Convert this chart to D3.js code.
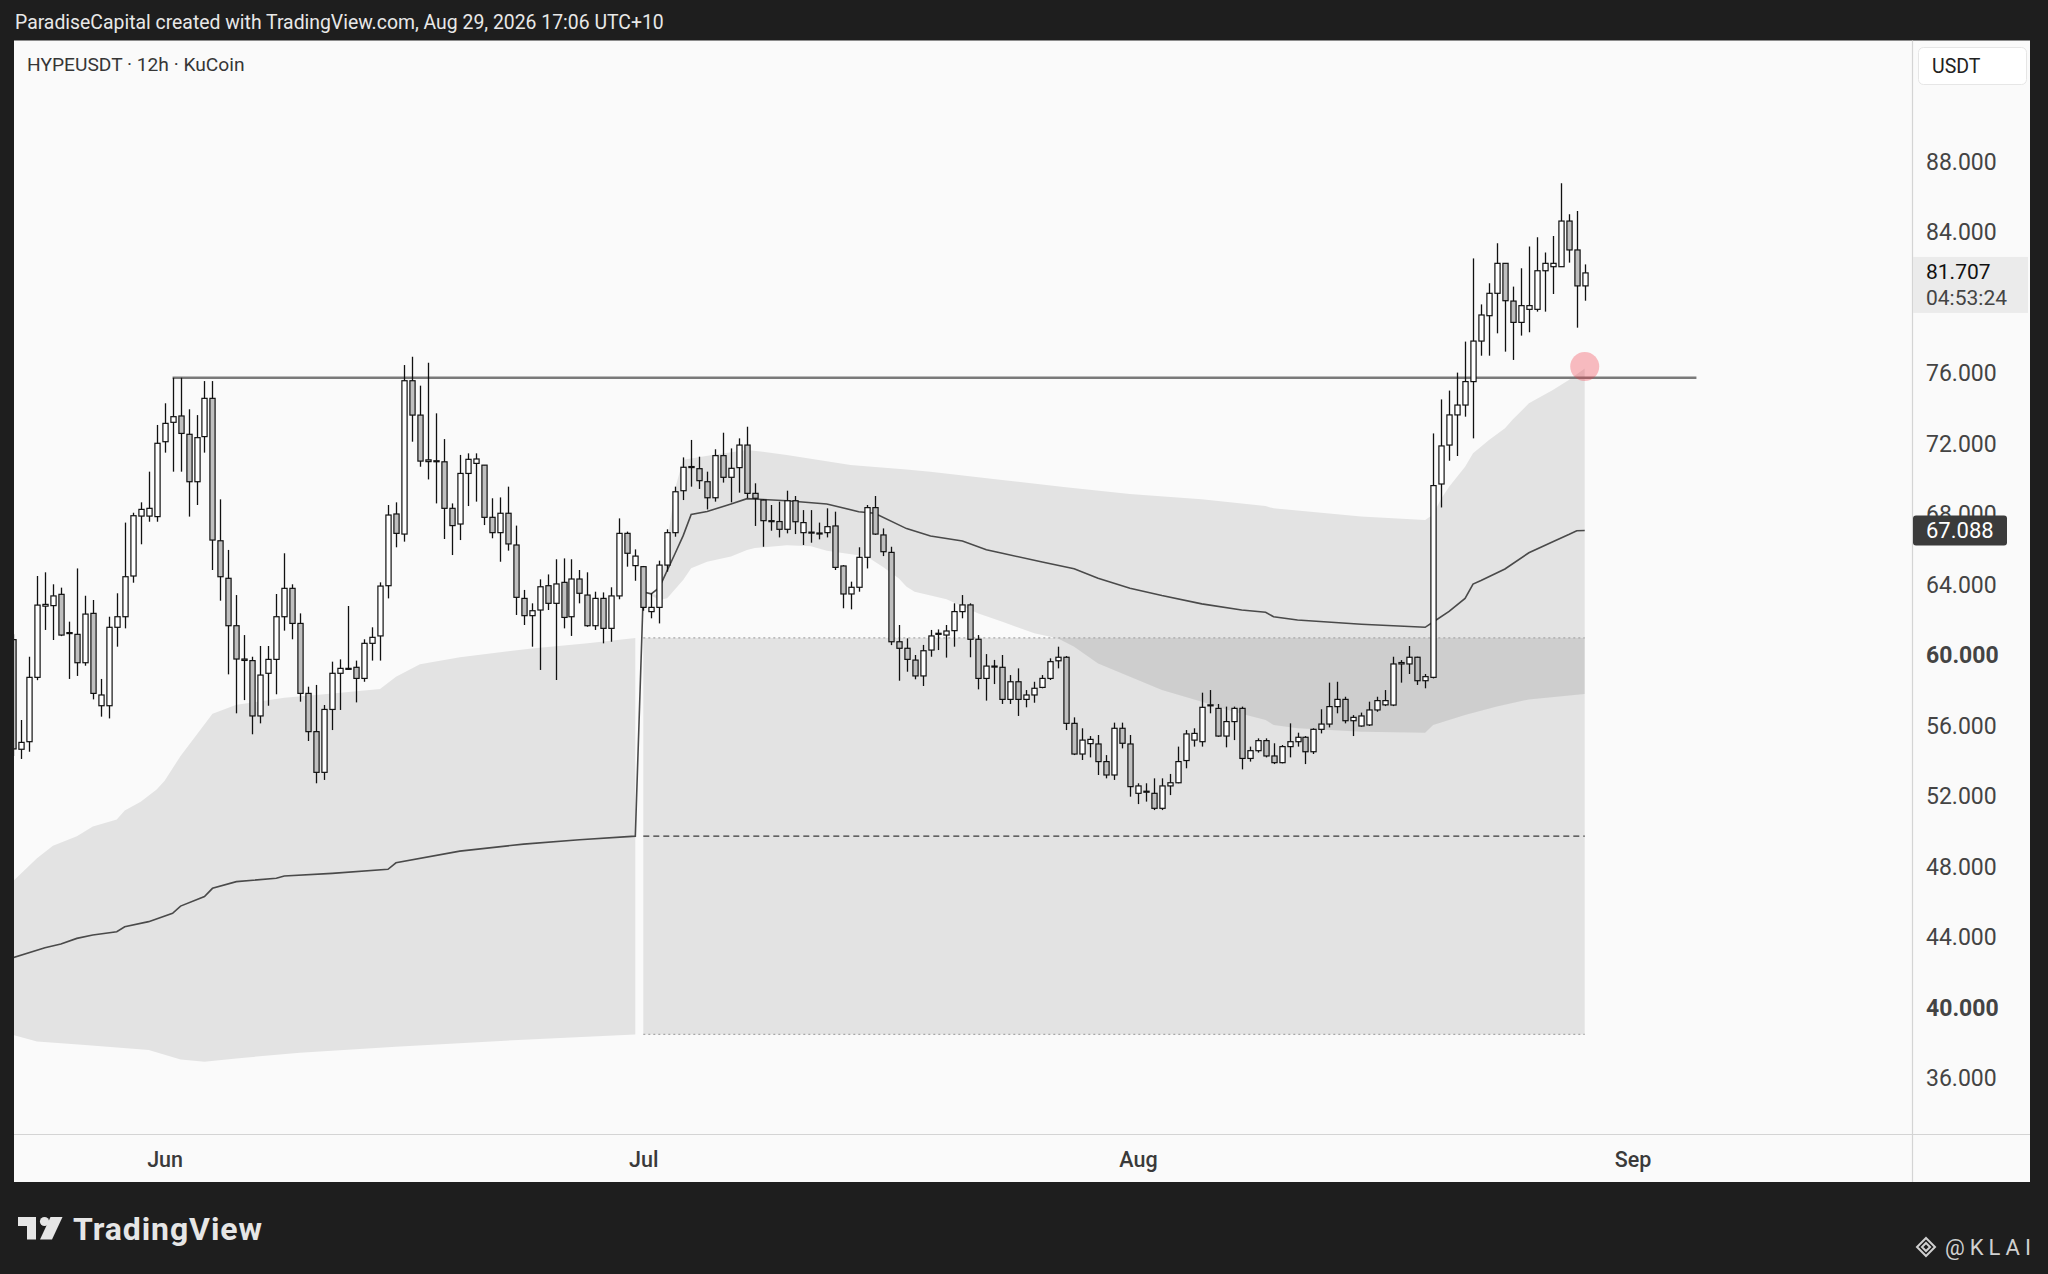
<!DOCTYPE html>
<html>
<head>
<meta charset="utf-8">
<script src="https://cdn.jsdelivr.net/npm/d3@7"></script>
<style>
html,body{margin:0;padding:0;background:#1e1e1e;}
svg{display:block;font-family:Roboto,"Noto Sans",sans-serif;}
</style>
</head>
<body>
<div id="chart"></div>
<script>
const width = 2048
const height = 1274

const panel = {left:14, top:40.5, right:2030, bottom:1182}
const plot = {left:14, top:40.5, right:1912, bottom:1134}

// 12h candles, HYPEUSDT, first one on May 22 12:00
const firstCandle = Date.UTC(2026, 4, 22, 12)
const candleMs = 12 * 3600 * 1000

const opens = [
  60.9,54.68,55.11,58.76,62.8,62.83,63.47,61.3,61.2,59.59,
  62.39,57.15,57.15,61.6,62.2,64.51,67.91,67.91,67.88,72.13,
  73.23,73.59,72.55,69.86,72.42,74.59,66.51,64.38,61.69,59.8,
  59.71,56.57,58.99,59.78,62.2,63.81,61.82,57.85,55.68,53.37,
  56.94,58.99,59.27,59.33,58.7,60.69,61.11,63.96,68.03,66.89,
  75.59,73.64,71.1,71.0,70.99,68.35,67.46,70.33,70.9,70.8,
  67.84,66.97,68.07,66.27,63.24,62.26,62.58,63.96,62.96,64.15,
  62.2,64.34,63.43,61.69,63.24,61.54,63.38,66.93,65.1,65.04,
  62.49,62.73,65.13,66.97,69.35,70.68,70.6,69.86,68.95,71.34,
  70.11,70.66,71.94,69.2,68.82,67.65,67.6,67.16,68.78,66.97,
  66.95,66.95,66.97,67.35,65.08,63.49,63.87,65.57,68.39,66.84,
  65.85,60.78,60.41,59.74,58.84,60.31,61.2,61.16,61.41,62.49,
  62.87,60.92,58.7,59.4,59.33,57.51,58.51,57.51,57.76,58.19,
  58.7,59.7,59.9,56.15,54.41,55.0,54.98,53.98,53.22,55.87,
  54.98,52.18,52.3,52.18,51.33,52.6,52.78,54.04,55.2,55.11,
  57.15,57.0,55.43,56.25,57.0,54.16,54.6,55.17,54.3,53.92,
  54.83,55.11,55.36,54.54,55.81,56.11,57.1,57.51,56.3,56.0,
  56.06,56.91,57.2,57.19,59.52,59.52,59.9,58.57,58.76,69.73,
  71.94,73.65,74.21,75.54,77.84,79.28,80.55,82.25,80.11,78.9,
  79.64,79.64,81.83,82.06,82.06,84.65,83.01,80.97
]
const highs = [
  61.2,56.34,59.93,64.51,64.72,64.04,63.85,61.92,64.94,63.39,
  63.15,58.67,62.2,63.53,67.54,68.1,68.69,70.43,73.08,74.31,
  75.76,75.76,73.97,73.64,75.57,75.57,68.86,65.99,63.43,61.16,
  59.93,60.54,60.54,63.49,65.8,64.04,62.39,58.23,58.33,57.19,
  59.65,59.78,62.81,59.71,60.92,61.6,64.15,68.54,68.69,76.48,
  76.95,75.31,76.61,73.74,72.28,68.63,71.38,71.47,71.47,70.81,
  68.92,68.97,69.58,67.37,63.72,62.96,64.32,64.6,65.46,65.51,
  65.46,64.85,64.72,63.62,63.58,63.87,67.78,67.03,66.02,65.08,
  63.53,65.38,67.16,69.58,71.24,72.23,71.28,70.43,71.7,72.64,
  71.75,72.32,72.98,69.77,68.86,68.54,68.73,69.35,69.05,68.25,
  68.25,67.54,68.35,68.16,65.13,64.19,66.14,68.54,69.05,67.21,
  66.17,61.73,60.97,60.03,60.6,61.45,61.48,61.73,62.96,63.43,
  62.96,61.16,60.08,59.75,60.03,58.89,59.27,58.04,58.51,58.89,
  59.84,60.5,59.97,56.49,55.87,55.43,55.49,54.35,56.19,56.19,
  55.49,52.75,52.75,53.03,53.03,53.28,54.83,55.77,55.87,57.89,
  58.04,57.25,57.1,57.1,57.1,54.83,55.3,55.3,55.02,54.92,
  56.15,55.62,55.43,55.87,56.95,58.46,58.51,57.66,56.62,56.76,
  57.38,57.66,58.04,59.93,59.74,60.54,59.93,58.95,72.6,74.53,
  75.03,76.05,77.81,82.53,79.92,81.12,83.39,82.25,80.93,81.97,
  83.2,83.73,82.86,83.8,86.79,85.03,85.22,82.19
]
const lows = [
  54.3,54.13,54.54,58.6,61.45,60.88,61.1,58.67,58.84,59.42,
  57.51,56.53,56.43,60.5,61.54,64.13,66.31,67.59,67.59,71.51,
  70.43,70.43,67.88,68.54,71.51,64.85,63.11,58.93,56.72,57.47,
  55.53,56.15,57.15,57.8,61.41,60.92,57.38,55.15,52.75,52.94,
  55.77,56.91,59.2,57.34,58.51,59.71,59.71,63.24,66.14,66.46,
  72.13,70.71,69.99,68.63,66.61,65.7,66.55,68.48,68.73,67.4,
  66.65,65.32,65.95,62.3,61.73,60.5,59.18,62.58,58.61,61.54,
  61.11,62.96,61.63,61.45,60.69,60.78,63.19,65.04,64.24,62.54,
  62.11,61.82,64.76,66.74,68.82,69.58,69.45,68.29,68.73,69.81,
  68.69,69.24,68.92,67.35,66.17,67.08,66.7,66.93,66.89,66.27,
  66.4,66.59,66.7,64.85,62.68,62.62,63.62,64.94,66.84,65.64,
  60.59,58.57,59.08,58.65,58.27,59.93,60.31,59.88,60.5,62.11,
  59.9,58.08,57.44,58.38,57.25,57.25,56.57,57.06,57.32,58.14,
  58.61,59.27,55.77,54.35,54.07,54.22,53.22,53.03,52.94,54.73,
  51.99,51.57,51.71,51.23,51.23,52.08,52.75,53.6,54.83,54.83,
  56.72,55.39,54.79,55.2,53.54,53.98,54.49,54.22,53.84,53.88,
  54.22,54.83,53.84,54.41,55.58,55.92,56.72,56.15,55.43,55.96,
  56.0,56.81,57.13,57.13,58.46,58.95,58.33,58.14,58.7,68.4,
  71.05,71.32,73.55,72.32,77.01,77.01,78.28,77.24,76.77,78.15,
  78.34,79.51,79.51,80.51,82.06,82.29,78.6,80.13
]
const closes = [
  54.7,55.07,58.76,62.86,62.9,63.38,61.16,61.25,59.59,62.35,
  57.85,57.76,61.6,62.2,64.47,67.93,68.29,68.35,72.04,73.17,
  73.55,72.6,69.86,72.36,74.59,66.55,64.47,61.69,59.8,59.72,
  56.57,58.89,59.78,62.2,63.81,61.82,57.85,55.68,53.37,56.94,
  58.99,59.27,59.23,58.7,60.69,61.03,63.94,67.97,66.93,75.59,
  73.64,71.03,71.0,71.05,68.35,67.37,70.33,71.13,71.15,67.84,
  66.97,68.07,66.33,63.3,62.26,62.54,63.9,62.96,64.06,62.16,
  64.34,63.53,61.69,63.24,61.54,63.38,66.93,65.8,65.64,62.73,
  62.73,65.13,66.97,69.29,70.68,70.72,69.92,68.95,71.34,70.11,
  70.62,71.94,69.2,68.92,67.65,67.6,67.16,68.78,67.59,67.54,
  67.0,66.93,67.31,65.0,63.49,63.87,65.57,68.39,66.89,65.89,
  60.78,60.41,59.78,58.84,60.27,61.11,61.26,61.39,62.49,62.87,
  60.92,58.7,59.4,59.37,57.51,58.51,57.51,57.76,58.14,58.7,
  59.65,59.9,56.15,54.41,55.2,55.24,53.98,53.22,55.87,55.02,
  52.56,52.6,52.27,51.33,52.6,52.78,53.98,55.55,55.58,57.06,
  57.2,55.43,56.25,57.0,54.16,54.6,55.17,54.3,53.92,54.83,
  55.11,55.36,54.54,55.81,56.11,57.1,57.51,56.3,56.49,56.57,
  56.91,57.44,57.44,59.52,59.6,59.9,58.57,58.8,69.64,71.89,
  73.65,74.21,75.54,77.84,79.32,80.55,82.25,80.13,78.9,79.85,
  79.85,81.83,82.25,82.25,84.65,83.01,80.97,81.707
]

// anchored vwap + bands, [candle number, price]
const vwapLine = [
  [1,42.85],[5,43.42],[7,43.63],[9,43.95],[11,44.14],[14,44.33],[15,44.61],[18,44.9],
  [21,45.37],[22,45.78],[25,46.32],[26,46.79],[29,47.17],[34,47.36],[35,47.49],[41,47.64],
  [48,47.87],[49,48.24],[57,48.9],[65,49.3],[72,49.55],[79,49.75],
  [80,63.6],[81,63.5],[82,63.85],[84,65.8],[85,66.8],[86,68.0],[88,68.17],[91,68.6],
  [93,68.9],[95,68.85],[98,68.78],[103,68.6],[107,68.16],[109,68.07],[113,67.2],[116,66.78],
  [120,66.5],[123,66.0],[125,65.8],[130,65.3],[134,64.92],[137,64.38],[141,63.82],[145,63.4],
  [150,62.93],[155,62.58],[158,62.45],[159,62.2],[162,62.01],[170,61.77],[178,61.6],[179,61.9],
  [181,62.5],[183,63.24],[184,64.05],[185,64.25],[188,64.91],[191,65.83],[194,66.45],
  [196,66.86],[197,67.08],[198,67.09]
]
const oldUpper = [
  [1,47.2],[4,48.5],[6,49.2],[9,49.75],[11,50.3],[14,50.7],[15,51.2],[17,51.7],[19,52.4],
  [20,52.9],[22,54.3],[26,56.7],[29,57.2],[35,57.6],[41,57.85],[47,58.1],[49,58.8],[52,59.5],
  [57,59.9],[66,60.4],[73,60.7],[79,61.0]
]
const oldLower = [
  [1,38.47],[4,38.1],[10,37.9],[18,37.62],[22,37.08],[25,36.95],[29,37.14],[37,37.46],
  [49,37.8],[65,38.2],[79,38.5]
]
const newUpper = [
  [80,63.6],[81,63.5],[82,63.4],[84,69.5],[85,71.1],[89,71.4],[93,71.66],[95,71.56],[98,71.38],
  [102,71.09],[106,70.81],[113,70.56],[116,70.43],[125,69.96],[133,69.54],[141,69.16],
  [150,68.86],[158,68.48],[159,68.35],[170,67.88],[178,67.69],[179,68.0],[180,68.9],[181,69.58],
  [183,70.71],[184,71.47],[186,72.23],[188,72.9],[189,73.4],[191,74.31],[194,75.07],[196,75.63],
  [198,76.29]
]
const newLower = [
  [80,63.6],[81,63.4],[82,63.15],[83,63.25],[85,64.28],[86,64.95],[88,65.32],[91,65.61],
  [93,65.99],[94,66.1],[98,66.25],[101,66.2],[103,65.95],[108,65.61],[110,65.04],[112,64.38],
  [113,63.9],[114,63.62],[118,63.19],[122,62.39],[125,61.92],[129,61.26],[132,60.97],[134,60.5],
  [137,59.55],[141,58.8],[145,58.04],[150,57.38],[154,56.81],[158,56.34],[159,56.06],[162,55.87],
  [170,55.68],[178,55.62],[179,56.05],[183,56.62],[187,57.1],[191,57.51],[198,57.81]
]
// previous session levels carried forward from Jul 1
const prevLevels = {from:80, to:198, top:61.0, mid:49.75, bottom:38.5}

const resistance = {price:75.76, from:21, to:212}
const marker = {k:198, price:76.4}

// 80.000 sits under the last-price box in the reference, so it is left out
const priceTicks = [36,40,44,48,52,56,60,64,68,72,76,84,88]
const boldTicks = [40,60]
const lastPrice = 81.707
const countdown = "04:53:24"
const vwapLast = 67.088

const headerText = "ParadiseCapital created with TradingView.com, Aug 29, 2026 17:06 UTC+10"
const symbolText = "HYPEUSDT · 12h · KuCoin"
const currency = "USDT"

const dateOf = k => new Date(firstCandle + (k - 1) * candleMs)

const x = d3.scaleUtc()
  .domain([new Date(Date.UTC(2026,5,1)), new Date(Date.UTC(2026,8,1))])
  .range([164.6, 1632.6])
const y = d3.scaleLinear().domain([40, 88]).range([1008, 162])

const svg = d3.select("#chart").append("svg").attr("width", width).attr("height", height)

svg.append("rect").attr("width", width).attr("height", height).attr("fill", "#1e1e1e")
svg.append("rect")
  .attr("x", panel.left).attr("y", panel.top)
  .attr("width", panel.right - panel.left).attr("height", panel.bottom - panel.top)
  .attr("fill", "#fafafa")

svg.append("text").attr("x", 15).attr("y", 28.5)
  .attr("font-size", 19.4).attr("fill", "#e8e8e8").text(headerText)

svg.append("defs").append("clipPath").attr("id", "plotClip")
  .append("rect").attr("x", plot.left).attr("y", plot.top)
  .attr("width", plot.right - plot.left).attr("height", plot.bottom - plot.top)

const g = svg.append("g").attr("clip-path", "url(#plotClip)")

const px = d => x(dateOf(d[0]))
const py = d => y(d[1])
const line = d3.line().x(px).y(py)

// band fills
const bandFill = "rgba(0,0,0,0.092)"
g.append("path").attr("d", line(oldUpper.concat(oldLower.slice().reverse())) + "Z").attr("fill", bandFill)
g.append("rect")
  .attr("x", x(dateOf(prevLevels.from)))
  .attr("y", y(prevLevels.top))
  .attr("width", x(dateOf(prevLevels.to)) - x(dateOf(prevLevels.from)))
  .attr("height", y(prevLevels.bottom) - y(prevLevels.top))
  .attr("fill", bandFill)
g.append("path").attr("d", line(newUpper.concat(newLower.slice().reverse())) + "Z").attr("fill", bandFill)

const levelLine = (p, color, dash, w) => g.append("line")
  .attr("x1", x(dateOf(prevLevels.from))).attr("x2", x(dateOf(prevLevels.to)))
  .attr("y1", y(p)).attr("y2", y(p))
  .attr("stroke", color).attr("stroke-width", w).attr("stroke-dasharray", dash)
levelLine(prevLevels.top, "#a8a8a8", "2,3", 1.2)
levelLine(prevLevels.bottom, "#a8a8a8", "2,3", 1.2)
levelLine(prevLevels.mid, "#3a3a3a", "6,4", 1.4)

g.append("path").attr("d", line(vwapLine))
  .attr("fill", "none").attr("stroke", "#4a4a4a").attr("stroke-width", 1.6)

// resistance
g.append("line")
  .attr("x1", x(dateOf(resistance.from))).attr("x2", x(dateOf(resistance.to)))
  .attr("y1", y(resistance.price)).attr("y2", y(resistance.price))
  .attr("stroke", "#7a7a7a").attr("stroke-width", 2.6)

// candles
const candles = opens.map((o, i) => ({k: i + 1, o: o, h: highs[i], l: lows[i], c: closes[i]}))
const cg = g.append("g")
cg.selectAll("line.wick").data(candles).enter().append("line")
  .attr("class", "wick")
  .attr("x1", d => Math.round(x(dateOf(d.k))) + 0.5)
  .attr("x2", d => Math.round(x(dateOf(d.k))) + 0.5)
  .attr("y1", d => y(d.h)).attr("y2", d => y(d.l))
  .attr("stroke", "#111").attr("stroke-width", 1.3)
cg.selectAll("rect.body").data(candles).enter().append("rect")
  .attr("class", "body")
  .attr("x", d => Math.round(x(dateOf(d.k))) + 0.5 - 2.6)
  .attr("y", d => y(Math.max(d.o, d.c)))
  .attr("width", 5.2)
  .attr("height", d => Math.max(1, Math.abs(y(d.o) - y(d.c))))
  .attr("fill", d => d.c >= d.o ? "#ffffff" : "#bfbfbf")
  .attr("stroke", "#111").attr("stroke-width", 1.2)

g.append("circle")
  .attr("cx", x(dateOf(marker.k))).attr("cy", y(marker.price)).attr("r", 14.5)
  .attr("fill", "rgba(242,54,69,0.32)")

// separators
svg.append("line").attr("x1", plot.right + 0.5).attr("x2", plot.right + 0.5)
  .attr("y1", panel.top).attr("y2", panel.bottom).attr("stroke", "#d4d4d4").attr("stroke-width", 1.2)
svg.append("line").attr("x1", panel.left).attr("x2", panel.right)
  .attr("y1", plot.bottom + 0.5).attr("y2", plot.bottom + 0.5).attr("stroke", "#d4d4d4").attr("stroke-width", 1.2)

svg.append("text").attr("x", 27).attr("y", 70.5)
  .attr("font-size", 19.2).attr("fill", "#363636").text(symbolText)

// price axis
const yAxis = d3.axisRight(y).tickValues(priceTicks).tickSize(0).tickPadding(0)
  .tickFormat(d3.format(".3f"))
const yAxisGroup = svg.append("g").attr("transform", `translate(${plot.right + 14},0)`).call(yAxis)
yAxisGroup.select(".domain").remove()
yAxisGroup.selectAll("text")
  .attr("font-size", 23).attr("fill", "#444")
  .attr("font-family", "Roboto, sans-serif")
  .attr("font-weight", d => boldTicks.includes(d) ? 700 : 400)

// currency box
svg.append("rect").attr("x", 1918.5).attr("y", 47.5).attr("width", 108).attr("height", 37).attr("rx", 5)
  .attr("fill", "#ffffff").attr("stroke", "#e6e6e6")
svg.append("text").attr("x", 1932).attr("y", 66).attr("dy", "0.35em")
  .attr("font-size", 19.5).attr("fill", "#222").text(currency)

// last price box
svg.append("rect").attr("x", plot.right + 1).attr("y", y(lastPrice) - 16)
  .attr("width", panel.right - plot.right - 3).attr("height", 56).attr("fill", "#ebebeb")
svg.append("text").attr("x", plot.right + 14).attr("y", y(lastPrice) - 1).attr("dy", "0.35em")
  .attr("font-size", 21).attr("fill", "#111").text(d3.format(".3f")(lastPrice))
svg.append("text").attr("x", plot.right + 14).attr("y", y(lastPrice) + 25).attr("dy", "0.35em")
  .attr("font-size", 21).attr("fill", "#444").text(countdown)

// vwap value box
svg.append("rect").attr("x", plot.right + 1).attr("y", y(vwapLast) - 15)
  .attr("width", 94).attr("height", 30).attr("rx", 3).attr("fill", "#3b3b3b")
svg.append("text").attr("x", plot.right + 14).attr("y", y(vwapLast)).attr("dy", "0.35em")
  .attr("font-size", 22).attr("fill", "#ffffff").text(d3.format(".3f")(vwapLast))

// time axis
const xAxis = d3.axisBottom(x).ticks(d3.utcMonth.every(1)).tickFormat(d3.utcFormat("%b")).tickSize(0).tickPadding(0)
const xAxisGroup = svg.append("g").attr("transform", `translate(0,${plot.bottom + 25})`).call(xAxis)
xAxisGroup.select(".domain").remove()
xAxisGroup.selectAll("text").attr("dy", "0.35em").attr("y", 0)
  .attr("font-size", 21.5).attr("font-weight", 500).attr("fill", "#3a3a3a")
  .attr("font-family", "Roboto, sans-serif")

// footer: TradingView mark
const logo = svg.append("g").attr("fill", "#e6e6e6")
logo.append("path").attr("d", "M18,1217 H36 V1239.5 H27 V1226 H18 Z")
logo.append("circle").attr("cx", 44.5).attr("cy", 1221.5).attr("r", 4.6)
logo.append("path").attr("d", "M50.5,1217 H62.5 L52,1239.5 H40 Z")
logo.append("text").attr("x", 73).attr("y", 1239.5)
  .attr("font-size", 32).attr("font-weight", 700).attr("letter-spacing", 0.9).text("TradingView")

// footer: watermark
const wm = svg.append("g").attr("transform", "translate(1926,1247)")
wm.append("path").attr("d", "M0,-9 L9,0 L0,9 L-9,0 Z M0,-4 L4,0 L0,4 L-4,0 Z")
  .attr("fill", "none").attr("stroke", "#d0d0d0").attr("stroke-width", 2)
svg.append("text").attr("x", 1945).attr("y", 1247).attr("dy", "0.35em")
  .attr("font-size", 22).attr("letter-spacing", 5).attr("fill", "#d0d0d0").text("@KLAI")
</script>
</body>
</html>
